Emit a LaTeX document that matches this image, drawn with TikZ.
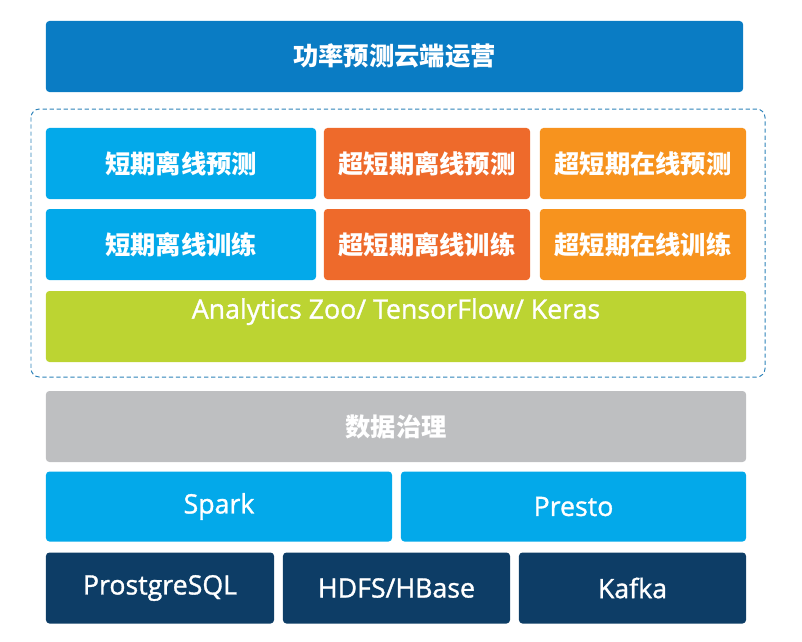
\documentclass[tikz,border=0pt]{standalone}
\usepackage{fontspec}
\IfFontExistsTF{Open Sans SemiBold}
  {\setmainfont{Open Sans SemiBold}}
  {\setmainfont{Open Sans}[FakeBold=1.2]}
\newfontfamily\cjk{Noto Sans CJK SC}
\definecolor{TopClr}{RGB}{10,124,196}
\definecolor{SkyClr}{RGB}{3,169,234}
\definecolor{RedClr}{RGB}{238,106,43}
\definecolor{OrangeClr}{RGB}{247,147,30}
\definecolor{LimeClr}{RGB}{188,212,50}
\definecolor{GrayClr}{RGB}{190,191,193}
\definecolor{NavyClr}{RGB}{13,61,102}
\definecolor{FrameClr}{RGB}{45,130,185}

\begin{document}
\begin{tikzpicture}[x=0.025cm,y=-0.025cm,
  blk/.style={rounded corners=2.5pt,minimum height=1.775cm,inner sep=0pt,text=white},
  zh/.style={blk,font=\cjk\bfseries\fontsize{18}{20}\selectfont},
  en/.style={blk,font=\fontsize{19}{22}\selectfont}]
\useasboundingbox (0,0) rectangle (802,641);

% top layer
\node[zh,fill=TopClr,minimum width=17.425cm] (cloud) at (394.5,56.5) {功率预测云端运营};

% model layer
\draw[FrameClr,line width=0.7pt,dash pattern=on 3pt off 2pt,rounded corners=6pt] (31,109) rectangle (765,377);
\node[zh,fill=SkyClr,minimum width=6.75cm] (stpred) at (181,163.5) {短期离线预测};
\node[zh,fill=RedClr,minimum width=5.15cm] (ustoffpred) at (427,163.5) {超短期离线预测};
\node[zh,fill=OrangeClr,minimum width=5.15cm] (ustonpred) at (643,163.5) {超短期在线预测};
\node[zh,fill=SkyClr,minimum width=6.75cm] (sttrain) at (181,244.5) {短期离线训练};
\node[zh,fill=RedClr,minimum width=5.15cm] (ustofftrain) at (427,244.5) {超短期离线训练};
\node[zh,fill=OrangeClr,minimum width=5.15cm] (ustontrain) at (643,244.5) {超短期在线训练};
\node[en,fill=LimeClr,minimum width=17.5cm,
  label={[en,yshift=0.37cm]center:Analytics Zoo/ TensorFlow/ Keras}] (zoo) at (396,326.5) {};

% data layer
\node[zh,fill=GrayClr,minimum width=17.5cm] (govern) at (396,426.5) {数据治理};
\node[en,fill=SkyClr,minimum width=8.65cm,minimum height=1.75cm] (spark) at (219,506.5) {Spark};
\node[en,fill=SkyClr,minimum width=8.625cm,minimum height=1.75cm] (presto) at (573.5,506.5) {Presto};
\node[en,fill=NavyClr,minimum width=5.7cm] (pg) at (160,588) {ProstgreSQL};
\node[en,fill=NavyClr,minimum width=5.675cm] (hdfs) at (396.5,588) {HDFS/HBase};
\node[en,fill=NavyClr,minimum width=5.675cm] (kafka) at (632.5,588) {Kafka};
\end{tikzpicture}
\end{document}
